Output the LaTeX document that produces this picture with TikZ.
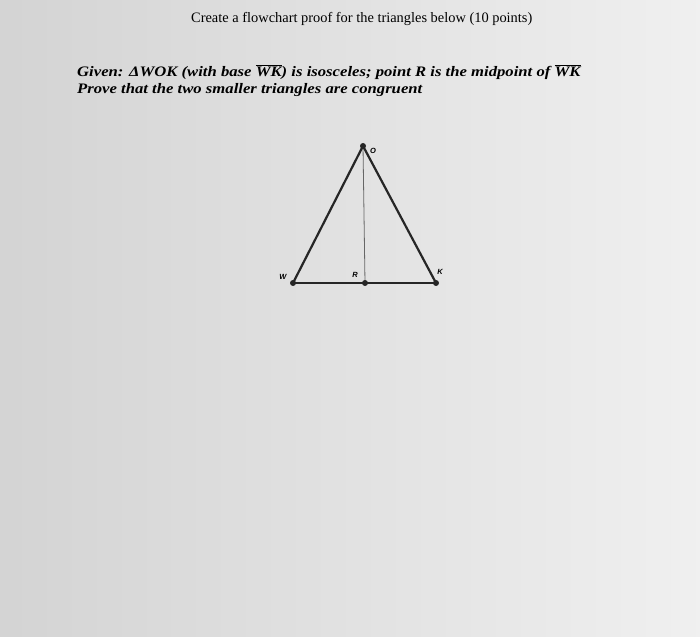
\documentclass[tikz,border=0pt]{standalone}
\usepackage{fontspec}
\setmainfont{Liberation Serif}
\setsansfont{Liberation Sans}
\newfontfamily\givenfont{Liberation Serif}[FakeStretch=1.15]
\tikzset{
  side/.style={line width=2.2pt, black!85},
  midline/.style={line width=0.8pt, black!60},
  vertexdot/.style={circle, fill=black!85, inner sep=0pt, minimum size=6pt},
  vlabel/.style={font=\sffamily\bfseries\itshape\fontsize{7.5}{8}\selectfont, inner sep=0pt},
  statement/.style={anchor=west, inner sep=0pt, font=\givenfont\bfseries\itshape\fontsize{14.5}{16}\selectfont}
}
\newcommand{\segWK}{\ensuremath{\overline{\hbox{\givenfont\bfseries\itshape WK}}}}
\begin{document}
\begin{tikzpicture}[x=1pt,y=-1pt]
  \useasboundingbox (0,0) rectangle (700,636);
  \shade[left color=black!17, right color=black!6] (0,0) rectangle (700,636);

  \node[anchor=west, inner sep=0pt, font=\fontsize{14.4}{16}\selectfont] (title) at (191,19)
    {Create a flowchart proof for the triangles below (10 points)};
  \node[statement] (given) at (77,72)
    {Given: ΔWOK (with base \segWK) is isosceles; point R is the midpoint of \segWK};
  \node[statement] (prove) at (77,90)
    {Prove that the two smaller triangles are congruent};

  \draw
    (363,146) coordinate (O)
    (293,283) coordinate (W)
    (365,283) coordinate (R)
    (436,283) coordinate (K);
  \begin{scope}[-]
    \draw[midline] (O) to (R);
    \draw[side] (W) to (O);
    \draw[side] (O) to (K);
    \draw[side] (W) to (K);
  \end{scope}
  \node[vertexdot] (dO) at (O) {};
  \node[vertexdot] (dW) at (W) {};
  \node[vertexdot] (dR) at (R) {};
  \node[vertexdot] (dK) at (K) {};

  \node[vlabel] (lO) at (373,151) {O};
  \node[vlabel] (lW) at (283,277) {W};
  \node[vlabel] (lR) at (355,275) {R};
  \node[vlabel] (lK) at (440,272) {K};
\end{tikzpicture}
\end{document}
